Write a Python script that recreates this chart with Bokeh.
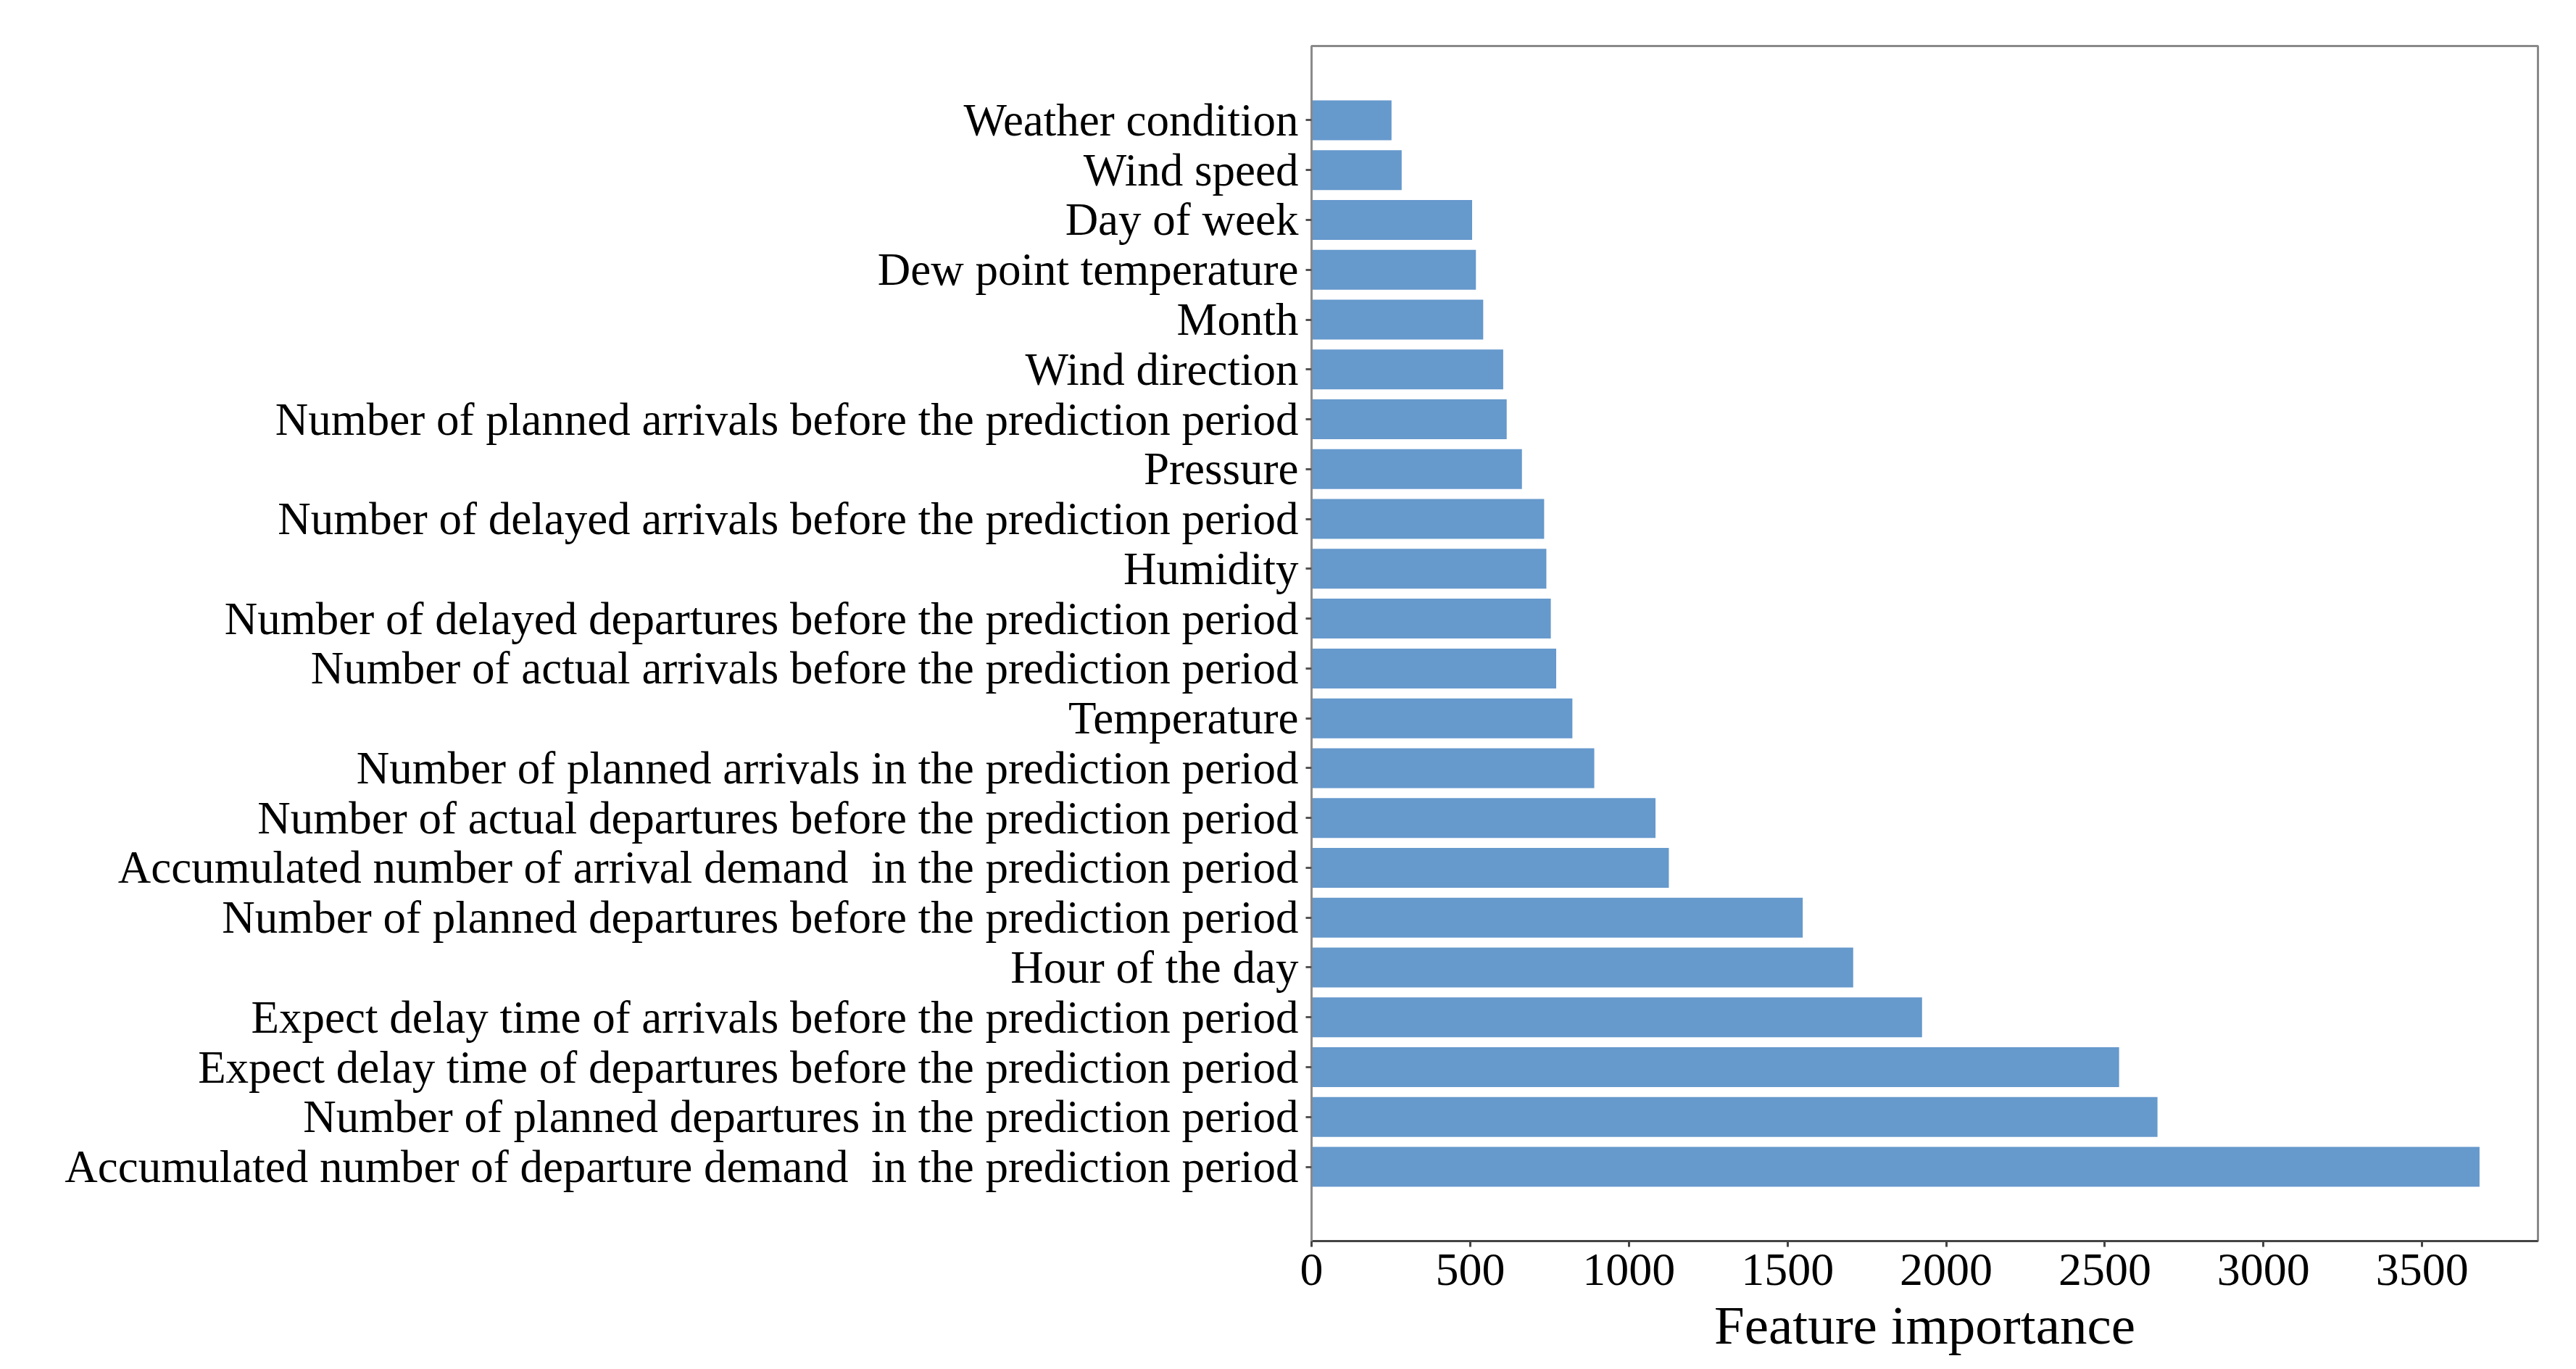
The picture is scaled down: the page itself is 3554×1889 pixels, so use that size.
from bokeh.plotting import figure
from bokeh.models import Range1d, FixedTicker
from bokeh.embed import file_html
from bokeh.resources import INLINE

# Features listed bottom (largest) to top (smallest)
features = [
    "Accumulated number of departure demand\u00a0 in the prediction period",
    "Number of planned departures in the prediction period",
    "Expect delay time of departures before the prediction period",
    "Expect delay time of arrivals before the prediction period",
    "Hour of the day",
    "Number of planned departures before the prediction period",
    "Accumulated number of arrival demand\u00a0 in the prediction period",
    "Number of actual departures before the prediction period",
    "Number of planned arrivals in the prediction period",
    "Temperature",
    "Number of actual arrivals before the prediction period",
    "Number of delayed departures before the prediction period",
    "Humidity",
    "Number of delayed arrivals before the prediction period",
    "Pressure",
    "Number of planned arrivals before the prediction period",
    "Wind direction",
    "Month",
    "Dew point temperature",
    "Day of week",
    "Wind speed",
    "Weather condition",
]
importance = [3681, 2666, 2545, 1924, 1707, 1548, 1126, 1084, 891, 822,
              771, 754, 740, 733, 663, 615, 604, 541, 518, 506, 284, 252]
x_ticks = [0, 500, 1000, 1500, 2000, 2500, 3000, 3500]
x_label = "Feature importance"

positions = list(range(len(features)))
FONT = "Liberation Serif"

n = len(features)
pad = 0.05 * (n - 1 + 0.8)

p = figure(
    output_backend="svg", toolbar_location=None,
    frame_width=1692, frame_height=1649,
    min_border_left=1809, min_border_right=45,
    min_border_top=63, min_border_bottom=169,
    x_range=Range1d(0, max(importance) * 1.05),
    y_range=Range1d(-0.4 - pad, n - 1 + 0.4 + pad),
)

p.hbar(y=positions, right=importance, left=0, height=0.8,
       fill_color="#6699CC", line_color=None)

p.xgrid.visible = False
p.ygrid.visible = False
p.outline_line_color = "#8a8a8a"
p.outline_line_width = 3

# x axis
xa = p.xaxis[0]
xa.ticker = FixedTicker(ticks=x_ticks)
xa.minor_tick_line_color = None
xa.major_tick_in = 0
xa.major_tick_out = 8
xa.major_tick_line_width = 3
xa.major_tick_line_color = "#444444"
xa.axis_line_color = "#444444"
xa.axis_line_width = 3
xa.major_label_text_font = FONT
xa.major_label_text_font_size = "64px"
xa.major_label_text_color = "black"
xa.major_label_standoff = 10
xa.axis_label = x_label
xa.axis_label_text_font = FONT
xa.axis_label_text_font_size = "75px"
xa.axis_label_text_font_style = "normal"
xa.axis_label_text_color = "black"
xa.axis_label_standoff = 11

# y axis
ya = p.yaxis[0]
ya.ticker = FixedTicker(ticks=positions)
ya.major_label_overrides = {i: f for i, f in enumerate(features)}
ya.minor_tick_line_color = None
ya.major_tick_in = 0
ya.major_tick_out = 8
ya.major_tick_line_width = 3
ya.major_tick_line_color = "#555555"
ya.axis_line_color = "#8a8a8a"
ya.axis_line_width = 3
ya.major_label_text_font = FONT
ya.major_label_text_font_size = "63px"
ya.major_label_text_color = "black"
ya.major_label_standoff = 10

open("out.html", "w").write(file_html(p, INLINE))
